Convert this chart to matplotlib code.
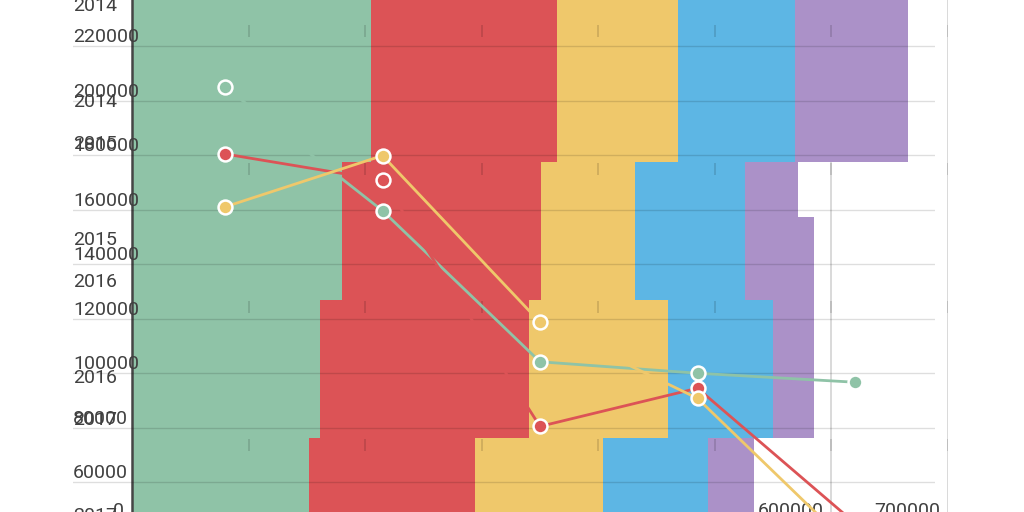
import matplotlib
matplotlib.use("Agg")
import matplotlib.pyplot as plt
from matplotlib.transforms import ScaledTranslation

plt.rcParams['font.family'] = ['Roboto', 'DejaVu Sans']

years = ['2014', '2015', '2016', '2017']
series_colors = ['#8fc3a7', '#dc5356', '#efc86b', '#5db6e4', '#ab91c8']

# one value per coloured series, for each year
values_2014 = [205000, 159600, 104200, 100000, 96700]
values_2015 = [180400, 170800, 80500, 94500, 45000]
values_2016 = [161000, 179800, 118700, 90800, 35000]
values_2017 = [152000, 142600, 109700, 90200, 39200]
rows = [values_2014, values_2015, values_2016, values_2017]

# the lines show the first three years over the five series
line_rows = [values_2014, values_2015, values_2016]

value_ticks = [0, 100000, 200000, 300000, 400000, 500000, 600000, 700000]
line_ticks = [60000, 80000, 100000, 120000, 140000, 160000, 180000, 200000, 220000]

W, H = 1024, 512
text_color = '#404040'
fs = 14

fig = plt.figure(figsize=(W / 100, H / 100), dpi=100)

# pixel layout of the (broken) original
bar_left, bar_right = 132, 948
line_left, line_right = 73, 935
band_px = 138


def shift(label, dx, dy):
    label.set_transform(label.get_transform() +
                        ScaledTranslation(dx / 100, dy / 100, fig.dpi_scale_trans))


def cat_ylim(first_center_px):
    return (H - first_center_px) / band_px, -first_center_px / band_px


def stacked(ax):
    left = [0] * len(years)
    for k, color in enumerate(series_colors):
        widths = [row[k] for row in rows]
        ax.barh(range(len(years)), widths, left=left, height=1.0,
                color=color, linewidth=0, zorder=2)
        left = [l + w for l, w in zip(left, widths)]


def year_labels(ax, dy):
    ax.set_yticks(range(len(years)), years)
    ax.tick_params(axis='y', length=0, pad=(bar_left - line_left) * 0.72,
                   labelsize=fs, labelcolor=text_color)
    for lab in ax.get_yticklabels():
        lab.set_ha('left')
        shift(lab, 0, dy)


bar_rect = [bar_left / W, 0, (bar_right - bar_left) / W, 1]

# lower copy of the bar chart (shifted up)
ax_a = fig.add_axes(bar_rect, zorder=1)
stacked(ax_a)
ax_a.set_xlim(0, 700000)
ax_a.set_ylim(*cat_ylim(10))
ax_a.set_axisbelow(True)
ax_a.grid(axis='x', color='#d0d0d0', lw=1.1)
for s in ax_a.spines.values():
    s.set_visible(False)
ax_a.set_xticks(value_ticks, [str(v) for v in value_ticks])
ax_a.tick_params(axis='x', length=0, pad=-7.2, labelsize=fs, labelcolor=text_color)
for lab in ax_a.get_xticklabels():
    lab.set_ha('right')
    shift(lab, -8, 0)
year_labels(ax_a, 6)

# upper copy of the bar chart
ax_b = fig.add_axes(bar_rect, zorder=2)
ax_b.patch.set_visible(False)
stacked(ax_b)
ax_b.set_xlim(0, 700000)
ax_b.set_ylim(*cat_ylim(93))
for side in ['top', 'right', 'bottom']:
    ax_b.spines[side].set_visible(False)
ax_b.spines['left'].set_color('#454545')
ax_b.spines['left'].set_linewidth(1.8)
ax_b.spines['left'].set_zorder(4)
ax_b.set_xticks([])
for i in range(len(years)):
    ax_b.vlines(value_ticks[1:], i - 0.5 + 1 / band_px, i - 0.5 + 13 / band_px,
                colors=[(0, 0, 0, 0.16)], lw=1.1, zorder=3)
year_labels(ax_b, -7)

# line chart on top
ax_l = fig.add_axes([line_left / W, 0, (line_right - line_left) / W, 1], zorder=3)
ax_l.patch.set_visible(False)
for s in ax_l.spines.values():
    s.set_visible(False)
step_px = 157.5
x0 = (225 - line_left) / step_px
ax_l.set_xlim(-x0, (line_right - line_left) / step_px - x0)
px_per_val = (482.3 - 46) / 160000
ax_l.set_ylim(60000 - (H - 482.3) / px_per_val, 220000 + 46 / px_per_val)
ax_l.set_xticks([])
ax_l.set_yticks(line_ticks, [str(v) for v in line_ticks])
ax_l.grid(axis='y', color='black', alpha=0.13, lw=1.0)
ax_l.tick_params(axis='y', length=0, pad=0, labelsize=fs, labelcolor=text_color)
for lab in ax_l.get_yticklabels():
    lab.set_ha('left')
    lab.set_va('bottom')

for row, color in zip(line_rows, series_colors):
    ax_l.plot(range(len(row)), row, color=color, lw=2, marker='o', ms=10,
              mfc=color, mec='white', mew=1.8, zorder=3)

fig.savefig('out.png', dpi=100)
